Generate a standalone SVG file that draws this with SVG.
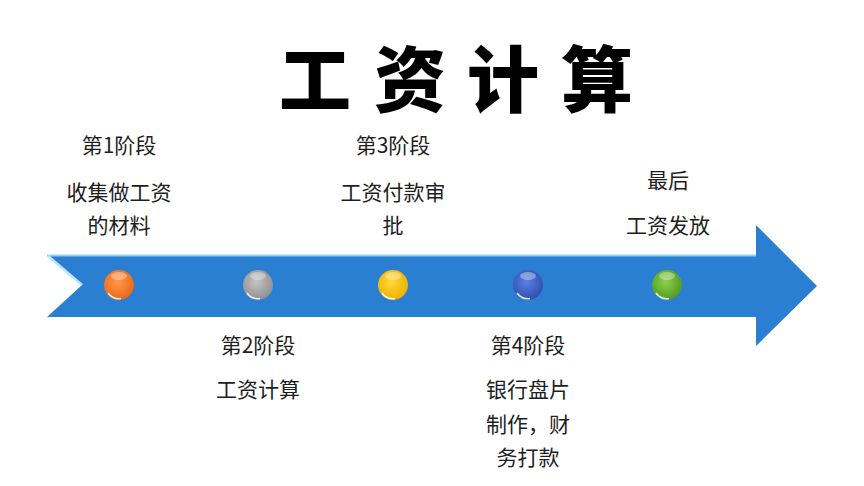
<svg xmlns="http://www.w3.org/2000/svg" width="864" height="486" viewBox="0 0 864 486">
<defs>
<style>
.t{font-family:"Noto Sans CJK SC","Microsoft YaHei",sans-serif;font-size:21px;fill:#1e1e1e;text-anchor:middle}
.title{font-family:"Noto Sans CJK SC",sans-serif;font-size:72px;font-weight:900;fill:#000;text-anchor:middle}
.rim{fill:none;stroke:#fff;stroke-width:1.6;stroke-opacity:0.85}
.gloss{fill:#fff;fill-opacity:0.35}
</style>
<radialGradient id="gOrange" cx="0.45" cy="0.4" r="0.6"><stop offset="0" stop-color="#ff9a48"/><stop offset="1" stop-color="#e8671a"/></radialGradient>
<radialGradient id="gGray" cx="0.45" cy="0.4" r="0.6"><stop offset="0" stop-color="#c4c4c4"/><stop offset="1" stop-color="#8f8f8f"/></radialGradient>
<radialGradient id="gYellow" cx="0.45" cy="0.4" r="0.6"><stop offset="0" stop-color="#ffd83a"/><stop offset="1" stop-color="#eeb000"/></radialGradient>
<radialGradient id="gBlue" cx="0.45" cy="0.4" r="0.6"><stop offset="0" stop-color="#5b80e0"/><stop offset="1" stop-color="#2f4fb0"/></radialGradient>
<radialGradient id="gGreen" cx="0.45" cy="0.4" r="0.6"><stop offset="0" stop-color="#8fd04a"/><stop offset="1" stop-color="#4f9a22"/></radialGradient>
</defs>
<rect width="864" height="486" fill="#fff"/>
<g id="title">
<text class="title" x="315" y="106">工</text>
<text class="title" x="410" y="106">资</text>
<text class="title" x="503" y="106">计</text>
<text class="title" x="597" y="106">算</text>
</g>
<g id="arrow">
<path d="M47,255 L756,255 L756,225 L817,286 L756,346 L756,317 L47,317 L82,285 Z" fill="#2a7fd3"/>
<path d="M47,255.5 L756,255.5" stroke="#8fd2f6" stroke-width="2" fill="none"/>
<path d="M48,256 L82,285" stroke="#bfe6fb" stroke-width="2.5" fill="none"/>
</g>
<g id="node1">
<circle cx="119" cy="285" r="15" fill="url(#gOrange)"/>
<path class="rim" d="M108,293 A13.5,13.5 0 0 0 121,298.5"/>
<ellipse class="gloss" cx="119" cy="276" rx="8" ry="4"/>
<text class="t" x="119" y="153">第1阶段</text>
<text class="t" x="119" y="200">收集做工资</text>
<text class="t" x="119" y="233">的材料</text>
</g>
<g id="node2">
<circle cx="258" cy="285" r="15" fill="url(#gGray)"/>
<path class="rim" d="M247,293 A13.5,13.5 0 0 0 260,298.5"/>
<ellipse class="gloss" cx="258" cy="276" rx="8" ry="4"/>
<text class="t" x="258" y="353">第2阶段</text>
<text class="t" x="258" y="397">工资计算</text>
</g>
<g id="node3">
<circle cx="393" cy="285" r="15" fill="url(#gYellow)"/>
<path class="rim" d="M382,293 A13.5,13.5 0 0 0 395,298.5"/>
<ellipse class="gloss" cx="393" cy="276" rx="8" ry="4"/>
<text class="t" x="393" y="153">第3阶段</text>
<text class="t" x="393" y="200">工资付款审</text>
<text class="t" x="393" y="233">批</text>
</g>
<g id="node4">
<circle cx="528" cy="285" r="15" fill="url(#gBlue)"/>
<path class="rim" d="M517,293 A13.5,13.5 0 0 0 530,298.5"/>
<ellipse class="gloss" cx="528" cy="276" rx="8" ry="4"/>
<text class="t" x="528" y="353">第4阶段</text>
<text class="t" x="528" y="397">银行盘片</text>
<text class="t" x="528" y="432">制作，财</text>
<text class="t" x="528" y="465">务打款</text>
</g>
<g id="node5">
<circle cx="667" cy="285" r="15" fill="url(#gGreen)"/>
<path class="rim" d="M656,293 A13.5,13.5 0 0 0 669,298.5"/>
<ellipse class="gloss" cx="667" cy="276" rx="8" ry="4"/>
<text class="t" x="668" y="188">最后</text>
<text class="t" x="668" y="233">工资发放</text>
</g>
<g id="connectors"></g>
</svg>
